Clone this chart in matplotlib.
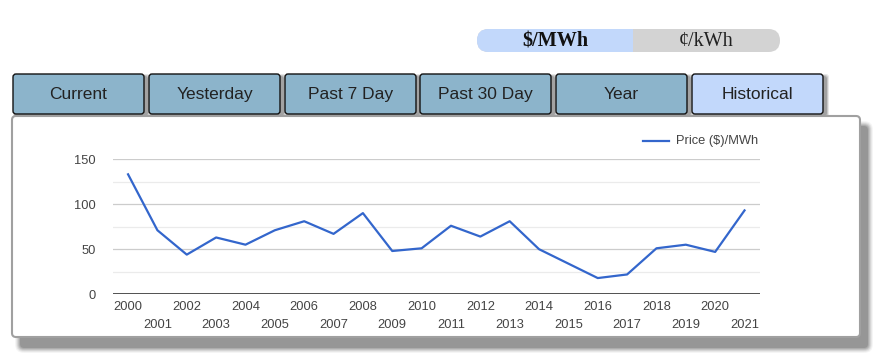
import matplotlib.pyplot as plt
from matplotlib.patches import FancyBboxPatch, Rectangle
from matplotlib.lines import Line2D

W, H = 891, 362

years = list(range(2000, 2022))
prices = [133, 71, 44, 63, 55, 71, 81, 67, 90, 48, 51, 76,
          64, 81, 50, 34, 18, 22, 51, 55, 47, 93]
tab_labels = ["Current", "Yesterday", "Past 7 Day", "Past 30 Day", "Year", "Historical"]
unit_labels = ["$/MWh", "¢/kWh"]
series_name = "Price ($)/MWh"

line_color = "#3366cc"
tab_color = "#8cb4cb"
active_color = "#c2d8fb"
text_gray = "#444444"
sans = "Liberation Sans"


def box(ax, x0, y0, x1, y1, r=2, **kw):
    # box in pixel coords of the background axes
    p = FancyBboxPatch((x0, y0), x1 - x0, y1 - y0,
                       boxstyle=f"round,pad=0,rounding_size={r}", **kw)
    ax.add_patch(p)
    return p


fig = plt.figure(figsize=(W / 100, H / 100), dpi=100)
bg = fig.add_axes([0, 0, 1, 1])
bg.set_xlim(0, W)
bg.set_ylim(H, 0)
bg.axis("off")

# unit toggle pill
box(bg, 477, 29, 780, 52, r=11.5, facecolor="#d3d3d3", edgecolor="none")
box(bg, 477, 29, 633, 52, r=11.5, facecolor=active_color, edgecolor="none")
bg.add_patch(Rectangle((610, 29), 23, 23, facecolor=active_color, edgecolor="none"))
bg.text(555, 41, unit_labels[0], ha="center", va="center",
        fontsize=14.5, fontweight="bold", family="Liberation Serif", color="#111111")
bg.text(706, 41, unit_labels[1], ha="center", va="center",
        fontsize=14.5, family="Liberation Serif", color="#222222")

# tabs
tab_x = [13, 149, 285, 420, 556, 692]
tab_w = 131
for x0, lab in zip(tab_x, tab_labels):
    for k, a in enumerate([0.2, 0.35, 0.6]):
        d = 2 - k
        box(bg, x0 + 2 - d, 76 - d, x0 + tab_w + 4 + d, 116 + d, r=3,
            facecolor="#8a8a8a", edgecolor="none", alpha=a)
    fc = active_color if lab == "Historical" else tab_color
    box(bg, x0, 74, x0 + tab_w, 114, r=3, facecolor=fc, edgecolor="#111111", linewidth=1)
    bg.text(x0 + tab_w / 2, 94.5, lab, ha="center", va="center",
            fontsize=12.5, family=sans, color="#222222")

# chart panel with soft shadow
for k, a in enumerate([0.08, 0.12, 0.18, 0.25, 0.35, 0.6]):
    d = 5 - k
    box(bg, 20 - d, 126 - d, 868 + d, 348 + d, r=4 + d,
        facecolor="#888888", edgecolor="none", alpha=a)
box(bg, 12, 116, 860, 337, r=4, facecolor="white", edgecolor="#a0a0a0", linewidth=1.5)

# chart axes
x_l, x_r, y_t, y_b = 112.5, 759.5, 159, 294.3
ax = fig.add_axes([x_l / W, 1 - y_b / H, (x_r - x_l) / W, (y_b - y_t) / H])
ax.set_facecolor("none")
idx = list(range(len(years)))
ax.plot(idx, prices, color=line_color, linewidth=1.6, zorder=3)
ax.set_xlim(-0.53, len(years) - 0.49)
ax.set_ylim(0, 150)

for v in [25, 75, 125]:
    ax.axhline(v, color="#ebebeb", linewidth=0.9, zorder=1)
for v in [50, 100, 150]:
    ax.axhline(v, color="#cccccc", linewidth=0.9, zorder=1)
ax.axhline(0, color="#333333", linewidth=1.2, zorder=2)

for s in ax.spines.values():
    s.set_visible(False)
ax.set_yticks([0, 50, 100, 150])
ax.tick_params(axis="y", length=0, labelsize=9.3, labelcolor=text_gray, pad=12)
for t in ax.get_yticklabels():
    t.set_family(sans)
ax.set_xticks([])
for i, yr in zip(idx, years):
    off = 307 if i % 2 == 0 else 325
    ax.text(i, -(off - y_b) * 150 / (y_b - y_t), str(yr), ha="center", va="center",
            fontsize=9.3, family=sans, color=text_gray, clip_on=False)

# legend
bg.add_line(Line2D([643, 669], [141, 141], color=line_color, linewidth=1.6))
bg.text(676, 141, series_name, ha="left", va="center",
        fontsize=9.3, family=sans, color=text_gray)

fig.savefig("out.png", dpi=100)
